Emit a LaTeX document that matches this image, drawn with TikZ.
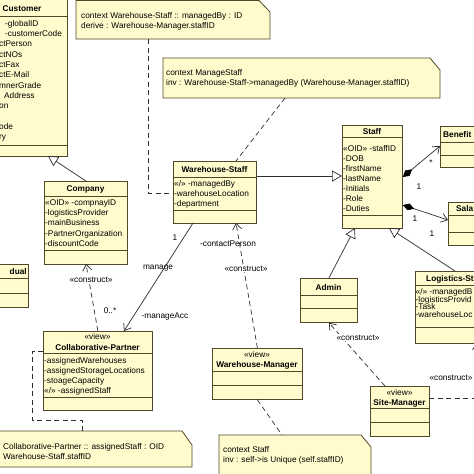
\documentclass[tikz,border=0pt]{standalone}
\usepackage{fontspec}
\setmainfont{Liberation Sans}
\usetikzlibrary{arrows.meta,calc}

\definecolor{umlfill}{RGB}{255,251,204}
\definecolor{umlline}{RGB}{80,72,40}
\definecolor{wirecol}{RGB}{45,45,45}

\tikzset{
	cls/.style={draw=umlline, fill=umlfill, line width=0.8pt, inner sep=0pt, anchor=north west},
	sep/.style={draw=umlline, line width=0.8pt},
	notebox/.style={draw=umlline, fill=umlfill, line width=0.8pt},
	ttl/.style={font=\fontsize{8.3}{10}\selectfont\bfseries, inner sep=0pt, text height=6pt, text depth=0pt},
	ster/.style={font=\fontsize{8.3}{10}\selectfont, inner sep=0pt, text height=6pt, text depth=0pt},
	attrs/.style={font=\fontsize{8.3}{10.3}\selectfont, align=left, inner sep=0pt, anchor=north west},
	lbl/.style={font=\fontsize{8.3}{10}\selectfont, inner sep=0.5pt, text height=6pt, text depth=0pt},
	stlbl/.style={lbl, fill=white},
	wire/.style={draw=wirecol, line width=0.7pt},
	gen/.style={wire, -{Triangle[open, length=10pt, width=11pt]}},
	nav/.style={wire, -{Straight Barb[length=6pt, width=9pt]}},
	dep/.style={nav, dash pattern=on 5pt off 3.5pt},
	link/.style={wire, dash pattern=on 5pt off 3.5pt},
	comp/.style={wire, {Diamond[length=12pt, width=7pt, black]}-{Straight Barb[length=6pt, width=9pt]}}
}

\begin{document}
\begin{tikzpicture}[x=1pt,y=-1pt]
	\useasboundingbox (0,0) rectangle (474,474);
	\fill[white] (0,0) rectangle (474,474);
	\clip (0,0) rectangle (474,474);

	\filldraw[notebox] (76,0.5) -- (259,0.5) -- (270,12) -- (270,39) -- (76,39) -- cycle;
	\node[attrs] (n1) at (81,10.8) {\strut context Warehouse-Staff :: managedBy : ID\\derive : Warehouse-Manager.staffID};
	\filldraw[notebox] (163,58) -- (430,58) -- (440,70) -- (440,98) -- (163,98) -- cycle;
	\node[attrs] (n2) at (166,67.8) {\strut context ManageStaff\\inv : Warehouse-Staff->managedBy (Warehouse-Manager.staffID)};
	\filldraw[notebox] (219,435) -- (361,435) -- (371,447) -- (371,480) -- (219,480) -- cycle;
	\node[attrs] (n3) at (223,444.8) {\strut context Staff\\inv : self->is Unique (self.staffID)};
	\filldraw[notebox] (-5,431) -- (182,431) -- (192,445) -- (192,467) -- (-5,467) -- cycle;
	\node[attrs] (n4) at (3,441.8) {\strut Collaborative-Partner :: assignedStaff : OID\\Warehouse-Staff.staffID};

	\node[cls, minimum width=92pt, minimum height=157pt] (cust) at (-25,-1) {};
	\draw[sep] ($(cust.north west)+(0,17)$) -- ($(cust.north east)+(0,17)$);
	\draw[sep] ($(cust.north west)+(0,146)$) -- ($(cust.north east)+(0,146)$);
	\node[ttl] (cust-t) at (22,8) {Customer};
	\node[attrs] (cust-a) at (-1,18.8) {\strut\hspace*{6pt}-globalID\\\hspace*{6pt}-customerCode\\ctPerson\\ctNOs\\ctFax\\ctE-Mail\\mnerGrade\\\hspace*{5pt}Address\\on\\\\ode\\ry};

	\node[cls, minimum width=83pt, minimum height=62pt] (ws) at (173,161) {};
	\draw[sep] ($(ws.north west)+(0,16)$) -- ($(ws.north east)+(0,16)$);
	\draw[sep] ($(ws.north west)+(0,49)$) -- ($(ws.north east)+(0,49)$);
	\node[ttl] (ws-t) at (214.5,169) {Warehouse-Staff};
	\node[attrs] (ws-a) at (174,178.8) {\strut«/» -managedBy\\-warehouseLocation\\-department};

	\node[cls, minimum width=60pt, minimum height=103pt] (staff) at (342,125) {};
	\draw[sep] ($(staff.north west)+(0,12)$) -- ($(staff.north east)+(0,12)$);
	\draw[sep] ($(staff.north west)+(0,90)$) -- ($(staff.north east)+(0,90)$);
	\node[ttl] (staff-t) at (372,131) {Staff};
	\node[attrs, font=\fontsize{8.3}{10}\selectfont] (staff-a) at (343,143.8) {\strut«OID» -staffID\\-DOB\\-firstName\\-lastName\\-Initials\\-Role\\-Duties};

	\node[cls, minimum width=60pt, minimum height=41pt] (ben) at (440,126) {};
	\draw[sep] ($(ben.north west)+(0,16)$) -- ($(ben.north east)+(0,16)$);
	\draw[sep] ($(ben.north west)+(0,29)$) -- ($(ben.north east)+(0,29)$);
	\node[ttl, anchor=west] (ben-t) at (443,134) {Benefit};

	\node[cls, minimum width=60pt, minimum height=43pt] (sal) at (448,202) {};
	\draw[sep] ($(sal.north west)+(0,13)$) -- ($(sal.north east)+(0,13)$);
	\draw[sep] ($(sal.north west)+(0,30)$) -- ($(sal.north east)+(0,30)$);
	\node[ttl, anchor=west] (sal-t) at (456,208.5) {Sala};

	\node[cls, minimum width=57pt, minimum height=44pt] (admin) at (300,278) {};
	\draw[sep] ($(admin.north west)+(0,17)$) -- ($(admin.north east)+(0,17)$);
	\draw[sep] ($(admin.north west)+(0,30)$) -- ($(admin.north east)+(0,30)$);
	\node[ttl] (admin-t) at (328.5,287) {Admin};

	\node[cls, minimum width=80pt, minimum height=72pt] (log) at (415,271) {};
	\draw[sep] ($(log.north west)+(0,14)$) -- ($(log.north east)+(0,14)$);
	\draw[sep] ($(log.north west)+(0,56)$) -- ($(log.north east)+(0,56)$);
	\node[ttl, anchor=west] (log-t) at (426,278) {Logistics-St};
	\node[attrs, font={\fontsize{8.3}{7.6}\selectfont\lineskiplimit-20pt\relax}] (log-a) at (415.5,288.3) {\strut«/» -managedB\\-logisticsProvid\\-Task\\-warehouseLoc};

	\node[cls, minimum width=83pt, minimum height=83pt] (comp) at (44,181) {};
	\draw[sep] ($(comp.north west)+(0,15)$) -- ($(comp.north east)+(0,15)$);
	\draw[sep] ($(comp.north west)+(0,69)$) -- ($(comp.north east)+(0,69)$);
	\node[ttl] (comp-t) at (85.5,188.5) {Company};
	\node[attrs] (comp-a) at (45,197.8) {\strut«OID» -compnayID\\-logisticsProvider\\-mainBusiness\\-PartnerOrganization\\-discountCode};

	\node[cls, minimum width=48pt, minimum height=43pt] (ind) at (-20,264) {};
	\draw[sep] ($(ind.north west)+(0,14)$) -- ($(ind.north east)+(0,14)$);
	\draw[sep] ($(ind.north west)+(0,29)$) -- ($(ind.north east)+(0,29)$);
	\node[ttl, anchor=east] (ind-t) at (27,271) {dual};

	\node[cls, minimum width=109pt, minimum height=79pt] (cp) at (43,331) {};
	\draw[sep] ($(cp.north west)+(0,22)$) -- ($(cp.north east)+(0,22)$);
	\draw[sep] ($(cp.north west)+(0,66)$) -- ($(cp.north east)+(0,66)$);
	\node[ster] (cp-s) at (97.5,336.5) {«view»};
	\node[ttl] (cp-t) at (97.5,347) {Collaborative-Partner};
	\node[attrs, font=\fontsize{8.3}{10}\selectfont] (cp-a) at (44,355.8) {\strut-assignedWarehouses\\-assignedStorageLocations\\-stoageCapacity\\«/» -assignedStaff};

	\node[cls, minimum width=90pt, minimum height=51pt] (wm) at (212,348) {};
	\draw[sep] ($(wm.north west)+(0,23)$) -- ($(wm.north east)+(0,23)$);
	\draw[sep] ($(wm.north west)+(0,37)$) -- ($(wm.north east)+(0,37)$);
	\node[ster] (wm-s) at (257,354) {«view»};
	\node[ttl] (wm-t) at (257,364) {Warehouse-Manager};

	\node[cls, minimum width=59pt, minimum height=50pt] (sm) at (370,386) {};
	\draw[sep] ($(sm.north west)+(0,22)$) -- ($(sm.north east)+(0,22)$);
	\draw[sep] ($(sm.north west)+(0,36)$) -- ($(sm.north east)+(0,36)$);
	\node[ster] (sm-s) at (399.5,392) {«view»};
	\node[ttl] (sm-t) at (399.5,402) {Site-Manager};

	\coordinate (n1-b) at (148,39);
	\coordinate (ws-l) at (173,193);
	\coordinate (n2-b) at (285,98);
	\coordinate (ws-n) at (236,161);
	\coordinate (ws-s1) at (193,223);
	\coordinate (ws-s2) at (236,223);
	\coordinate (cust-s) at (48,156);
	\coordinate (comp-s) at (86,264);
	\coordinate (cp-n) at (124,331);
	\coordinate (staff-s1) at (355,228);
	\coordinate (staff-s2) at (389,228);
	\coordinate (log-n) at (455,271);
	\coordinate (log-s) at (477,343);
	\coordinate (sm-nw) at (385,386);
	\coordinate (sm-e) at (429,398);
	\coordinate (cp-w) at (43,351);
	\coordinate (n4-n) at (82,431);
	\coordinate (n3-n) at (282,435);

	\draw[link] (n1-b) |- (ws-l);
	\draw[link] (n2-b) -- (ws-n);
	\draw[gen] (ws.east |- 0,176) -- (staff.west |- 0,176);
	\draw[comp] (staff.east |- 0,177) -- (ben.west |- 0,146);
	\draw[comp] (staff.east |- 0,205) -- (sal.west |- 0,220);
	\draw[gen] (admin.north) -- (staff-s1);
	\draw[gen] (log-n) -- (staff-s2);
	\draw[gen] (comp.north) -- (cust-s);
	\draw[dep] (cp.north) -- (comp-s);
	\draw[nav] (ws-s1) -- (cp-n);
	\draw[dep] (wm.north) -- (ws-s2);
	\draw[link] (wm.south) -- (n3-n);
	\draw[dep] (sm-nw) -- (admin.south);
	\draw[dep] (sm-e) -| (log-s);
	\draw[link] (cp-w) -- ++(-11,0) |- ++(50,69) -- (n4-n);

	\node[stlbl] (l-c1) at (91,279) {«construct»};
	\node[lbl] (l-m1) at (110,310) {0..*};
	\node[lbl] (l-o1) at (175,237) {1};
	\node[lbl] (l-r1) at (158,266) {manage};
	\node[lbl] (l-r2) at (165,315) {-manageAcc};
	\node[lbl] (l-r3) at (228,243) {-contactPerson};
	\node[stlbl] (l-c2) at (246,268) {«construct»};
	\node[stlbl] (l-c3) at (358,337) {«construct»};
	\node[stlbl] (l-c4) at (451,377) {«construct»};
	\node[lbl] (l-m2) at (431,162) {*};
	\node[lbl] (l-o2) at (419,186) {1};
	\node[lbl] (l-o3) at (415,218) {1};
	\node[lbl] (l-o4) at (432,233) {1};
\end{tikzpicture}
\end{document}
